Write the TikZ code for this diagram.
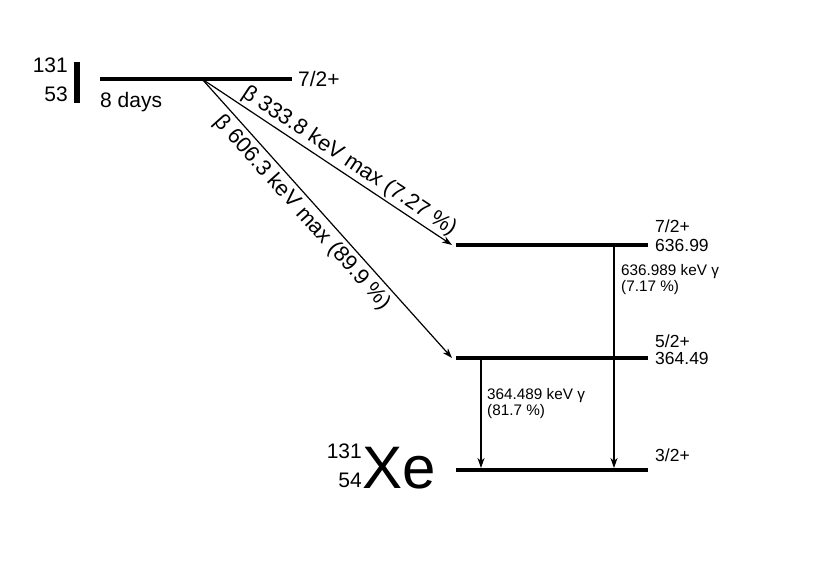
\documentclass[tikz,border=0pt]{standalone}
\usepackage{fontspec}
\setmainfont{Liberation Sans}
\usetikzlibrary{arrows.meta}
\begin{document}
\begin{tikzpicture}[x=1pt,y=-1pt,
  level/.style={line width=4pt},
  bar/.style={line width=6pt},
  trans/.style={line width=1.2pt,-{Stealth[length=10pt,width=7pt,inset=3pt]}},
  big/.style={inner sep=0pt,font=\fontsize{21}{24}\selectfont},
  mid/.style={inner sep=0pt,anchor=base west,font=\fontsize{17.5}{20}\selectfont},
  small/.style={inner sep=0pt,anchor=base west,align=left,font=\fontsize{15.3}{16.5}\selectfont},
  blbl/.style={inner sep=0pt,font=\fontsize{21.8}{24}\selectfont}]
\useasboundingbox[fill=white] (0,0) rectangle (820,577);
% coordinates
\coordinate (P0) at (100,79);  \coordinate (P1) at (292,79);
\coordinate (B0) at (202,79);
\coordinate (A0) at (456,245); \coordinate (A1) at (648,245);
\coordinate (C0) at (456,358); \coordinate (C1) at (648,358);
\coordinate (G0) at (456,470); \coordinate (G1) at (648,470);
\coordinate (E1) at (452,245); \coordinate (E2) at (452,358);
\coordinate (g1s) at (614,247); \coordinate (g1e) at (614,468);
\coordinate (g2s) at (481,360); \coordinate (g2e) at (481,468);
\coordinate (barT) at (77,62); \coordinate (barB) at (77,103);
% parent
\draw[bar] (barT) -- (barB);
\node[big,anchor=base east] (iA) at (68,73) {131};
\node[big,anchor=base east] (iZ) at (68,102) {53};
\draw[level] (P0) -- (P1);
\node[big,anchor=base west] (half) at (100,108) {8 days};
\node[big,anchor=base west] (pspin) at (298,87) {7/2+};
% daughter levels
\draw[level] (A0) -- (A1);
\draw[level] (C0) -- (C1);
\draw[level] (G0) -- (G1);
\node[mid] (s1) at (655,233) {7/2+};
\node[mid] (e1) at (655,252) {636.99};
\node[mid] (s2) at (655,348) {5/2+};
\node[mid] (e2) at (655,365) {364.49};
\node[mid] (s3) at (655,461) {3/2+};
% beta transitions
\draw[trans] (B0) -- node[blbl,pos=0.56,sloped,above=2pt] (b1) {β 333.8 keV max (7.27 \%)} (E1);
\draw[trans] (B0) -- node[blbl,pos=0.445,sloped,below=4pt] (b2) {β 606.3 keV max (89.9 \%)} (E2);
% gamma transitions
\draw[trans] (g1s) -- (g1e);
\draw[trans] (g2s) -- (g2e);
\node[small] (gl1) at (621,292) {636.989 keV γ\\(7.17 \%)};
\node[small] (gl2) at (487,416) {364.489 keV γ\\(81.7 \%)};
% daughter nucleus
\node[inner sep=0pt,anchor=base west,font=\fontsize{60}{62}\selectfont] (xe) at (362,489) {Xe};
\node[big,anchor=base east] (dA) at (362,459) {131};
\node[big,anchor=base east] (dZ) at (362,487) {54};
\end{tikzpicture}
\end{document}
